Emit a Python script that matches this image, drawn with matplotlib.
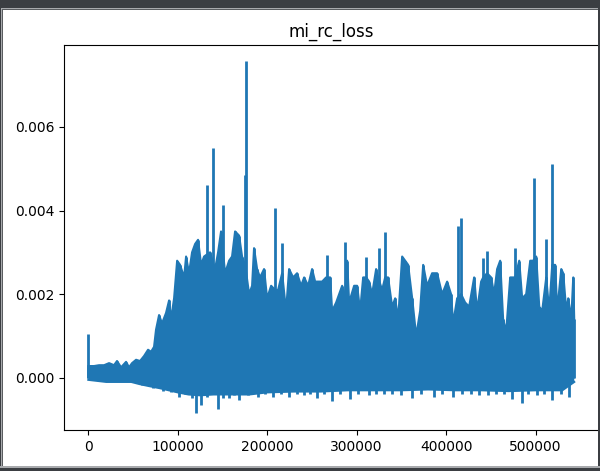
import numpy as np
import matplotlib
matplotlib.use('Agg')
import matplotlib.pyplot as plt
from matplotlib.patches import Rectangle

# local peaks / notches along the top of the band (step, loss)
up_x = [0, 6400, 12000, 17600, 23200, 28700, 32100, 36600, 42200, 45500, 48900, 53400,
        57800, 62300, 66800, 70100, 73500, 75700, 79100, 82400, 86900, 90300, 92500,
        95900, 99300, 102600, 107100, 109300, 112600, 116000, 119400, 122700, 126100,
        129400, 136100, 141700, 145100, 148400, 152900, 157400, 160700, 164100, 168600,
        171900, 175300, 179800, 183100, 185300, 188700, 192000, 196500, 199900, 204400,
        208900, 212200, 216700, 221100, 224500, 229000, 233400, 237900, 241300, 245800,
        250200, 253600, 258100, 261400, 265900, 270400, 272600, 277100, 280400, 283800,
        287100, 289400, 291600, 297200, 300600, 303900, 307300, 310600, 314000, 317300,
        321800, 324000, 328500, 331900, 335200, 339700, 343100, 346400, 350900, 354300,
        357600, 362100, 366600, 371000, 374400, 378800, 384400, 390000, 395600, 401200,
        405600, 407900, 412400, 416800, 421300, 425800, 431400, 434700, 439200, 441500,
        445900, 450400, 453700, 457100, 460500, 463800, 467200, 471700, 477300, 481800,
        485100, 489600, 494100, 497400, 500800, 504200, 507500, 512000, 515300, 518700,
        522000, 524300, 528800, 531000, 534400, 536600, 540000, 542200, 543300]
up_y = [0.00028, 0.00028, 0.0003, 0.0003, 0.00035, 0.0003, 0.0004, 0.00025, 0.00038, 0.00025,
        0.00035, 0.00043, 0.0004, 0.00052, 0.00067, 0.00062, 0.00074, 0.00115, 0.0015, 0.0013,
        0.00155, 0.00185, 0.0014, 0.0019, 0.0028, 0.0027, 0.0024, 0.0029, 0.0025, 0.003,
        0.0032, 0.0033, 0.0027, 0.0029, 0.003, 0.0026, 0.003, 0.0035, 0.0025, 0.0028,
        0.0029, 0.0035, 0.0034, 0.0029, 0.0027, 0.002, 0.0022, 0.0031, 0.0026, 0.0024,
        0.0026, 0.0019, 0.0022, 0.0021, 0.0021, 0.0025, 0.0016, 0.0026, 0.0024, 0.0025,
        0.0022, 0.0024, 0.0022, 0.0026, 0.0023, 0.0023, 0.0023, 0.0024, 0.0024, 0.0016,
        0.0018, 0.002, 0.0022, 0.0019, 0.0028, 0.0018, 0.0022, 0.0022, 0.0016, 0.0024,
        0.0024, 0.0023, 0.002, 0.0026, 0.0024, 0.0021, 0.0024, 0.0024, 0.0017, 0.0019,
        0.0014, 0.0029, 0.0028, 0.0027, 0.0019, 0.001, 0.0016, 0.0027, 0.0022, 0.0025,
        0.0025, 0.002, 0.0023, 0.002, 0.0013, 0.0019, 0.002, 0.0018, 0.0017, 0.0024,
        0.0016, 0.0023, 0.0024, 0.0025, 0.0024, 0.002, 0.0026, 0.0028, 0.0014, 0.0011,
        0.0024, 0.0024, 0.0028, 0.0019, 0.002, 0.0028, 0.0028, 0.0029, 0.0017, 0.0016,
        0.0024, 0.0016, 0.0027, 0.0027, 0.0016, 0.0026, 0.0025, 0.0016, 0.0019, 0.0014,
        0.0024, 0.0014]

# bottom of the solid part of the band
lo_x = [0, 20000, 48000, 57000, 68000, 80000, 90000, 100000, 112000, 125000, 140000,
        160000, 180000, 200000, 230000, 260000, 290000, 320000, 350000, 380000, 410000,
        440000, 470000, 500000, 530000, 543300]
lo_y = [-0.00005, -0.0001, -0.0001, -0.00015, -0.0002, -0.00025, -0.0003, -0.00035,
        -0.0004, -0.00042, -0.0004, -0.0004, -0.0004, -0.00035, -0.00033, -0.00033,
        -0.0003, -0.0003, -0.0003, -0.00028, -0.0003, -0.0003, -0.00032, -0.0003,
        -0.0003, -0.0001]

# isolated spikes above the band
spike_x = [0, 132400, 139800, 151000, 174900, 176700, 209200, 216300, 266700, 287100,
           310300, 324500, 331900, 412800, 417200, 441800, 446300, 477300, 497800,
           511600, 519000]
spike_y = [0.00104, 0.00462, 0.0055, 0.00413, 0.00484, 0.00758, 0.00405, 0.00322,
           0.00293, 0.00324, 0.0029, 0.00311, 0.00348, 0.00362, 0.00382, 0.00286,
           0.00304, 0.0031, 0.00478, 0.00332, 0.00512]

# troughs below the band
dip_x = [60000, 72000, 84000, 92000, 101000, 108000, 116000, 120100, 125700, 133000,
         145100, 151000, 157400, 163000, 168600, 178000, 190000, 198000, 206000,
         215000, 224500, 233000, 241000, 248000, 255800, 264000, 272600, 281000,
         292700, 302000, 314000, 322000, 331000, 340000, 350000, 362100, 372000,
         386700, 396000, 408000, 418000, 428000, 437000, 447000, 456000, 465000,
         473800, 484800, 492000, 502000, 510000, 518400, 528000, 538000]
dip_y = [-0.00018, -0.00025, -0.00032, -0.00035, -0.00045, -0.0004, -0.00048,
         -0.00084, -0.00064, -0.00045, -0.00074, -0.00048, -0.00048, -0.00042,
         -0.00053, -0.00042, -0.00045, -0.0004, -0.00046, -0.0004, -0.00045,
         -0.0004, -0.00042, -0.00038, -0.00048, -0.0004, -0.00056, -0.0004, -0.0005,
         -0.00038, -0.00042, -0.0004, -0.00038, -0.0004, -0.00042, -0.00048,
         -0.00038, -0.00045, -0.0004, -0.00045, -0.00038, -0.0004, -0.00042,
         -0.00042, -0.0004, -0.00038, -0.0005, -0.0006, -0.0004, -0.00042, -0.0004,
         -0.00054, -0.0004, -0.00045]

color = '#1f77b4'

fig = plt.figure(figsize=(6.0, 4.71), dpi=100)
ax = fig.add_axes([64 / 600, 41 / 471, 535 / 600, 385 / 471])

ax.fill(np.concatenate([up_x, lo_x[::-1]]), np.concatenate([up_y, lo_y[::-1]]),
        color=color, lw=0)
ax.plot(up_x, up_y, color=color, lw=1.5)
ax.plot(lo_x, lo_y, color=color, lw=1.5)
ax.vlines(up_x, 0, up_y, color=color, lw=2)
ax.vlines(spike_x, 0, spike_y, color=color, lw=2)
ax.vlines(dip_x, dip_y, 0, color=color, lw=2)
ax.set_xlim(-27200, 571000)
ax.set_ylim(-0.00125, 0.00796)
ax.set_title('mi_rc_loss')


# window frame of the screenshot
def frame(x, y, w, h, c):
    fig.add_artist(Rectangle((x / 600, 1 - (y + h) / 471), w / 600, h / 471,
                             transform=fig.transFigure, color=c, lw=0, zorder=10))


dark = '#3b3e42'
frame(0, 0, 600, 8, dark)
frame(0, 8, 600, 1, '#a8aaad')
frame(0, 9, 600, 1, '#5a5d60')
frame(0, 0, 1, 471, dark)
frame(1, 9, 1, 462, '#a8aaad')
frame(2, 9, 1, 462, '#5a5d60')
frame(598, 0, 2, 471, dark)
frame(0, 466, 600, 2, '#a8aaad')
frame(0, 468, 600, 3, dark)

fig.savefig('out.png', dpi=100)
